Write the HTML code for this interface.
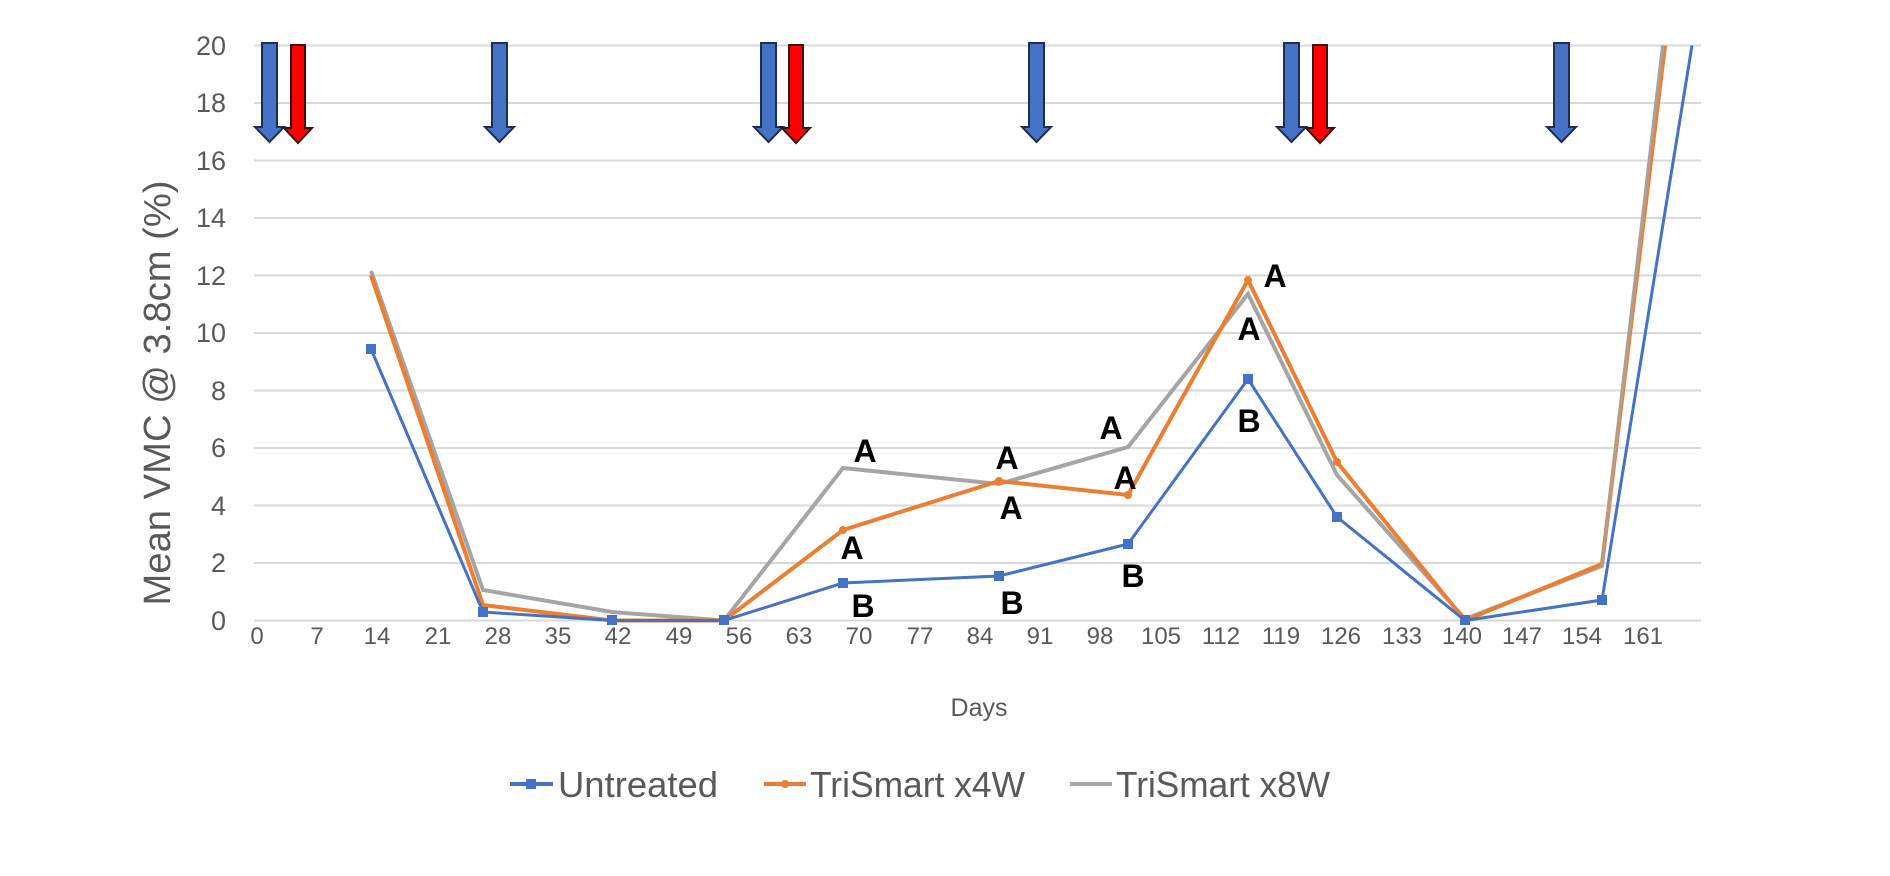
<!DOCTYPE html>
<html><head><meta charset="utf-8"><style>
html,body{margin:0;padding:0;background:#fff;}
svg{display:block;font-family:"Liberation Sans",sans-serif;}
</style></head><body>
<svg width="1890" height="876" viewBox="0 0 1890 876" xmlns="http://www.w3.org/2000/svg">
<rect width="1890" height="876" fill="#fff"/>
<g stroke="#d9d9d9" stroke-width="2">
<line x1="254" x2="1701" y1="620.5" y2="620.5"/>
<line x1="254" x2="1701" y1="563" y2="563"/>
<line x1="254" x2="1701" y1="505.5" y2="505.5"/>
<line x1="254" x2="1701" y1="448" y2="448"/>
<line x1="254" x2="1701" y1="390.5" y2="390.5"/>
<line x1="254" x2="1701" y1="333" y2="333"/>
<line x1="254" x2="1701" y1="275.5" y2="275.5"/>
<line x1="254" x2="1701" y1="218" y2="218"/>
<line x1="254" x2="1701" y1="160.5" y2="160.5"/>
<line x1="254" x2="1701" y1="103" y2="103"/>
<line x1="254" x2="1701" y1="45.5" y2="45.5"/>
</g>
<g fill="#595959" font-size="27" text-anchor="end">
<text x="226" y="630">0</text><text x="226" y="572">2</text><text x="226" y="515">4</text>
<text x="226" y="457">6</text><text x="226" y="400">8</text><text x="226" y="342">10</text>
<text x="226" y="285">12</text><text x="226" y="227">14</text><text x="226" y="170">16</text>
<text x="226" y="112">18</text><text x="226" y="55">20</text>
</g>
<g fill="#595959" font-size="24" text-anchor="middle">
<text x="257" y="644">0</text><text x="317" y="644">7</text><text x="377" y="644">14</text>
<text x="438" y="644">21</text><text x="498" y="644">28</text><text x="558" y="644">35</text>
<text x="618" y="644">42</text><text x="679" y="644">49</text><text x="739" y="644">56</text>
<text x="799" y="644">63</text><text x="859" y="644">70</text><text x="920" y="644">77</text>
<text x="980" y="644">84</text><text x="1040" y="644">91</text><text x="1100" y="644">98</text>
<text x="1161" y="644">105</text><text x="1221" y="644">112</text><text x="1281" y="644">119</text>
<text x="1341" y="644">126</text><text x="1402" y="644">133</text><text x="1462" y="644">140</text>
<text x="1522" y="644">147</text><text x="1582" y="644">154</text><text x="1643" y="644">161</text>
</g>
<text x="979" y="716" fill="#595959" font-size="25" text-anchor="middle">Days</text>
<text transform="translate(170,393) rotate(-90)" fill="#595959" font-size="38" text-anchor="middle" textLength="425" lengthAdjust="spacingAndGlyphs">Mean VMC @ 3.8cm (%)</text>

<!-- series -->
<polyline fill="none" stroke="#A5A5A5" stroke-width="4" points="371,271 483,590 612,612 724,620.5 843,468 999,484 1128,447 1248,294 1337,475 1465,619 1602,566 1663,45.5"/>
<polyline fill="none" stroke="#ED7D31" stroke-width="4" points="371,275.5 483,605 612,620.5 724,620.5 843,530 999,481 1128,495 1248,280 1337,462 1465,620.5 1602,564 1665,45.5"/>
<polyline fill="none" stroke="#A5A5A5" stroke-width="3" opacity="0.8" points="1602,566 1663,45.5"/>
<polyline fill="none" stroke="#4472C4" stroke-width="3" points="371,349 483,612 612,620.5 724,620.5 843,583 999,576 1128,544 1248,379 1337,517 1465,620.5 1602,600 1692,45.5"/>
<g fill="#4472C4">
<rect x="366" y="344" width="10" height="10"/><rect x="478" y="607" width="10" height="10"/>
<rect x="607" y="615" width="10" height="10"/><rect x="719" y="615" width="10" height="10"/>
<rect x="838" y="578" width="10" height="10"/><rect x="994" y="571" width="10" height="10"/>
<rect x="1123" y="539" width="10" height="10"/><rect x="1243" y="374" width="10" height="10"/>
<rect x="1332" y="512" width="10" height="10"/><rect x="1460" y="615" width="10" height="10"/>
<rect x="1597" y="595" width="10" height="10"/>
</g>
<g fill="#ED7D31">
<circle cx="843" cy="530" r="4"/><circle cx="999" cy="481" r="4"/><circle cx="1128" cy="495" r="4"/><circle cx="1248" cy="280" r="4"/><circle cx="1337" cy="462" r="4"/>
</g>

<!-- arrows -->
<g stroke="#1F2D4E" stroke-width="2" fill="#4472C4">
<path d="M262,43 H277 V127 H284 L269.5,142 L255,127 H262 Z"/>
<path d="M492,43 H507 V127 H514 L499.5,142 L485,127 H492 Z"/>
<path d="M761,43 H776 V127 H783 L768.5,142 L754,127 H761 Z"/>
<path d="M1029,43 H1044 V127 H1051 L1036.5,142 L1022,127 H1029 Z"/>
<path d="M1284,43 H1299 V127 H1306 L1291.5,142 L1277,127 H1284 Z"/>
<path d="M1554,43 H1569 V127 H1576 L1561.5,142 L1547,127 H1554 Z"/>
</g>
<g stroke="#3a1010" stroke-width="2" fill="#FF0000">
<path d="M291,45 H305 V128 H312 L298,143 L284,128 H291 Z"/>
<path d="M789,45 H803 V128 H810 L796,143 L782,128 H789 Z"/>
<path d="M1313,45 H1327 V128 H1334 L1320,143 L1306,128 H1313 Z"/>
</g>

<!-- letters -->
<g font-size="32" font-weight="bold" fill="#000" text-anchor="middle">
<text x="865" y="462">A</text><text x="852" y="559">A</text><text x="863" y="617">B</text>
<text x="1007" y="469">A</text><text x="1011" y="519">A</text><text x="1012" y="614">B</text>
<text x="1111" y="439">A</text><text x="1125" y="489">A</text><text x="1133" y="587">B</text>
<text x="1275" y="287">A</text><text x="1249" y="340">A</text><text x="1249" y="432">B</text>
</g>

<!-- legend -->
<line x1="510" x2="553" y1="784" y2="784" stroke="#4472C4" stroke-width="4"/>
<rect x="526" y="779" width="10" height="10" fill="#4472C4"/>
<text x="558" y="797" font-size="36" fill="#595959" textLength="160" lengthAdjust="spacingAndGlyphs">Untreated</text>
<line x1="764" x2="806" y1="784" y2="784" stroke="#ED7D31" stroke-width="4"/>
<circle cx="785" cy="784" r="4" fill="#ED7D31"/>
<text x="810" y="797" font-size="36" fill="#595959" textLength="215" lengthAdjust="spacingAndGlyphs">TriSmart x4W</text>
<line x1="1070" x2="1112" y1="784" y2="784" stroke="#A5A5A5" stroke-width="4"/>
<text x="1116" y="797" font-size="36" fill="#595959" textLength="214" lengthAdjust="spacingAndGlyphs">TriSmart x8W</text>
</svg>
</body></html>
